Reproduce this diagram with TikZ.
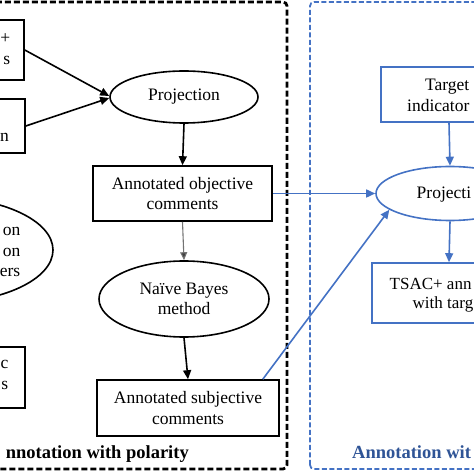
\documentclass[tikz,border=0pt]{standalone}
\usepackage{fontspec}
\setmainfont{Liberation Serif}
\usetikzlibrary{arrows.meta,shapes.geometric}
\definecolor{offblue}{HTML}{4472C4}
\definecolor{darkblue}{HTML}{2F5496}
\tikzset{
  txt/.style={font=\fontsize{17.5}{20.5}\selectfont, inner sep=0pt},
  bbox/.style={draw, line width=1.6pt, rectangle, inner sep=0pt},
  bell/.style={draw, line width=1.6pt, ellipse, inner sep=0pt},
  blbox/.style={draw=offblue, line width=1.6pt, rectangle, inner sep=0pt},
  blell/.style={draw=offblue, line width=1.6pt, ellipse, inner sep=0pt},
  barrow/.style={line width=1.6pt, -{Triangle[length=9pt,width=8pt]}},
  garrow/.style={line width=1.1pt, draw=black!55, -{Triangle[length=8pt,width=7pt,fill=black!75]}},
  blarrow/.style={line width=1.6pt, draw=offblue, -{Triangle[length=9pt,width=8pt]}, offblue},
  lbl/.style={font=\fontsize{18.5}{22}\selectfont\bfseries, inner sep=0pt},
}
\begin{document}
\begin{tikzpicture}[x=1pt,y=1pt]
\useasboundingbox (0,0) rectangle (474,474);
% frames
\draw[line width=2.8pt, dash pattern=on 6pt off 3pt, rounded corners=4pt] (-20,5) rectangle (287,472);
\draw[line width=1.8pt, offblue, dash pattern=on 5pt off 2.5pt, rounded corners=4pt] (310,5) rectangle (520,472);
% left column (cut by the picture's edge)
\node[bbox, minimum width=104pt, minimum height=60pt] (b1) at (-28,424) {};
\node[txt, anchor=east, align=right] (t1) at (10.5,425) {+\\s};
\node[bbox, minimum width=105pt, minimum height=54pt] (b2) at (-27.5,348) {};
\node[txt, anchor=east] (t2) at (9,337) {n};
\node[bell, minimum width=226pt, minimum height=106pt] (e1) at (-60,224) {};
\node[txt, anchor=east, align=right] (t3) at (20.5,222) {on\\on\\ers};
\node[bbox, minimum width=105pt, minimum height=61pt] (b3) at (-27.5,96.5) {};
\node[txt, anchor=east, align=right] (t4) at (8.5,99) {c\\s};
% middle column
\node[bell, minimum width=148pt, minimum height=52pt, txt] (proj) at (184,377) {Projection};
\node[bbox, minimum width=179pt, minimum height=55pt, txt, align=center] (obj) at (182.5,280.5) {Annotated objective\\comments};
\node[bell, minimum width=170pt, minimum height=76pt, txt, align=center] (nb) at (184,175) {Na\"ive Bayes\\method};
\node[bbox, minimum width=182pt, minimum height=56pt, txt, align=center] (subj) at (188,66) {Annotated subjective\\comments};
\node[lbl, anchor=east] (lab1) at (189,20) {nnotation with polarity};
% right column (cut by the picture's edge)
\node[blbox, minimum width=136pt, minimum height=55pt] (tgt) at (449,379.5) {};
\node[txt, anchor=west] (tg1) at (425,387) {Target};
\node[txt, anchor=west] (tg2) at (407,368) {indicator};
\node[blell, minimum width=148pt, minimum height=54pt] (bproj) at (450,280.5) {};
\node[txt, anchor=west] (bp) at (416.5,279.5) {Projecti};
\node[blbox, minimum width=154pt, minimum height=60pt] (tsac) at (449,181) {};
\node[txt, anchor=west, font=\fontsize{17}{20}\selectfont] (ts1) at (389.5,190) {TSAC+ ann};
\node[txt, anchor=west, font=\fontsize{17}{20}\selectfont] (ts2) at (412.5,169.5) {with targ};
\node[lbl, anchor=west, text=darkblue] (lab2) at (352,22) {Annotation wit};
% connectors
\draw[barrow] (b1.east) -- ([yshift=1pt]proj.west);
\draw[barrow] (b2.east) -- ([yshift=-1pt]proj.west);
\draw[barrow] (proj.south) -- (obj.north);
\draw[garrow] (obj.south) -- (nb.north);
\draw[barrow] (nb.south) -- (subj.north);
\draw[blarrow] (obj.east) -- (bproj.west);
\draw[blarrow] ([xshift=-17pt]subj.north east) -- (bproj.195);
\draw[blarrow] (tgt.south) -- (bproj.north);
\draw[blarrow] (bproj.south) -- (tsac.north);
\end{tikzpicture}
\end{document}
